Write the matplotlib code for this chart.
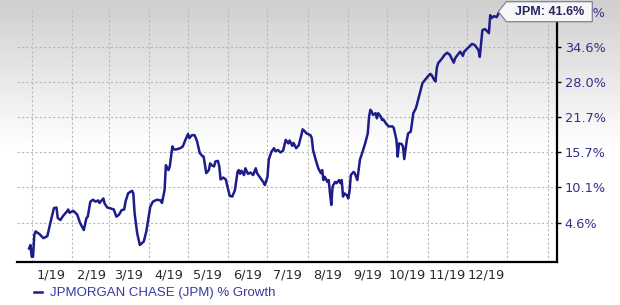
import numpy as np
import pandas as pd
import matplotlib
matplotlib.use("Agg")
import matplotlib.pyplot as plt
import matplotlib.dates as mdates
from matplotlib.patches import Polygon
from matplotlib.transforms import IdentityTransform

# JPM % growth; days counted from 2019-01-01
days = [
    -2, -1, 0, 1, 2, 3, 6, 9, 12, 14, 17, 19, 20, 22, 24, 27, 28, 29, 32, 35,
    37, 40, 42, 43, 45, 47, 49, 51, 52, 55, 56, 58, 60, 63, 65, 67, 69, 71, 72, 74,
    77, 78, 79, 81, 83, 86, 88, 91, 93, 96, 99, 100, 102, 103, 105, 106, 108, 109, 111, 114,
    116, 118, 120, 121, 123, 125, 126, 127, 129, 131, 132, 133, 134, 136, 137, 138, 140, 141, 143, 144,
    145, 147, 149, 150, 152, 154, 156, 158, 159, 160, 161, 163, 164, 166, 168, 170, 172, 173, 175, 178,
    179, 181, 182, 184, 186, 187, 189, 191, 193, 195, 197, 198, 200, 201, 203, 205, 207, 208, 209, 211,
    214, 215, 216, 218, 220, 222, 223, 224, 225, 227, 228, 229, 230, 231, 233, 234, 236, 237, 238, 239,
    240, 242, 243, 244, 245, 247, 248, 250, 251, 252, 254, 256, 258, 259, 260, 261, 262, 264, 265, 266,
    268, 269, 270, 272, 274, 277, 278, 280, 281, 282, 284, 285, 286, 288, 289, 291, 293, 295, 296, 298,
    300, 302, 304, 306, 307, 309, 310, 311, 312, 313, 315, 317, 319, 321, 323, 324, 325, 327, 328, 329,
    331, 332, 334, 336, 338, 340, 341, 343, 344, 345, 346, 348, 350, 351, 352, 353, 355, 357, 359,
]
growth = [
    0.8, 1.3, -0.4, -0.4, 2.8, 3.3, 2.9, 2.3, 2.6, 4.3, 6.8, 6.9, 5.3, 5.0, 5.6, 6.3, 6.6, 6.1, 6.4, 5.8,
    4.6, 3.5, 5.3, 5.5, 7.8, 8.1, 7.8, 8.0, 7.6, 8.3, 7.5, 6.9, 6.8, 6.6, 5.5, 5.8, 6.5, 6.6, 7.8, 9.1,
    9.5, 9.1, 6.0, 3.0, 1.3, 1.8, 3.3, 7.0, 7.8, 8.1, 8.0, 7.6, 9.6, 13.6, 12.8, 13.4, 16.7, 16.2, 16.2, 16.4,
    16.7, 17.8, 18.8, 18.1, 18.6, 18.6, 18.1, 17.5, 15.6, 15.1, 15.0, 13.6, 12.3, 12.8, 13.9, 13.6, 13.4, 14.2, 14.3, 13.4,
    11.3, 11.6, 11.3, 10.4, 8.7, 8.6, 9.6, 12.5, 12.8, 12.2, 12.7, 12.0, 13.1, 12.2, 12.4, 12.0, 13.1, 12.3, 11.7, 10.8,
    10.4, 11.7, 14.5, 15.8, 16.4, 15.9, 16.1, 15.7, 16.0, 17.8, 17.2, 17.7, 16.8, 17.3, 16.4, 16.9, 18.6, 19.6, 19.4, 18.9,
    18.6, 18.1, 16.1, 14.5, 13.1, 12.3, 12.8, 11.2, 11.7, 10.9, 11.2, 9.1, 7.3, 10.2, 10.9, 10.7, 11.2, 10.7, 11.2, 8.6,
    9.1, 8.8, 8.3, 9.4, 12.0, 12.5, 12.3, 11.2, 12.8, 14.5, 15.8, 17.2, 18.9, 21.8, 23.0, 22.7, 22.1, 22.4, 21.5, 22.4,
    21.8, 21.2, 21.3, 20.6, 20.1, 20.1, 19.8, 17.8, 15.0, 17.2, 17.1, 16.7, 14.6, 17.8, 18.9, 19.2, 22.4, 23.3, 24.2, 26.0,
    27.8, 28.4, 29.0, 29.5, 29.3, 28.4, 28.1, 30.6, 31.5, 31.8, 32.4, 33.1, 33.5, 33.1, 32.1, 31.6, 32.4, 33.1, 33.4, 33.7,
    32.9, 33.7, 34.2, 34.7, 35.2, 35.0, 34.7, 34.0, 32.7, 35.3, 37.9, 38.1, 37.6, 37.3, 40.9, 40.3, 40.7, 40.5, 41.6,
]
ytick_vals = [4.6, 10.1, 15.7, 21.7, 28.0, 34.6, 41.5]
month_labels = ["1/19", "2/19", "3/19", "4/19", "5/19", "6/19",
                "7/19", "8/19", "9/19", "10/19", "11/19", "12/19"]
series_label = "JPMORGAN CHASE (JPM) % Growth"
callout_label = "JPM: 41.6%"

NAVY = "#1c1c8a"
start = pd.Timestamp("2019-01-01")
dates = start + pd.to_timedelta(days, unit="D")

fig = plt.figure(figsize=(6.2, 3.05), dpi=100)

# grey-to-white background wash
bg = fig.add_axes([0, 0, 1, 1], zorder=-1)
ramp = np.clip(0.81 + 0.19 * np.linspace(0, 1, 305) * 305 / 150, 0, 1)
bg.imshow(ramp[:, None], aspect="auto", cmap="gray", vmin=0, vmax=1,
          extent=[0, 1, 0, 1])
bg.axis("off")

ax = fig.add_axes([17 / 620, 43 / 305, 539.5 / 620, 254 / 305])
ax.set_facecolor("none")
ax.set_yscale("function", functions=(lambda g: np.log1p(np.asarray(g) / 100),
                                     lambda u: np.expm1(np.asarray(u)) * 100))

line, = ax.plot(dates, growth, color=NAVY, lw=1.8, zorder=3,
                solid_joinstyle="round")

ax.set_ylim(-1.14, 42.35)
ax.set_xlim(start - pd.Timedelta(days=11.3), start + pd.Timedelta(days=402.9))

ax.yaxis.tick_right()
ax.set_yticks(ytick_vals, labels=[f"{v:.1f}%" for v in ytick_vals])
ax.yaxis.set_minor_locator(matplotlib.ticker.NullLocator())
ax.tick_params(axis="y", length=3, width=1, color="black", pad=3,
               labelsize=9.3, labelcolor="#30308a")

ax.xaxis.set_major_locator(mdates.MonthLocator())
ax.xaxis.set_major_formatter(matplotlib.ticker.NullFormatter())
mids = [start + pd.DateOffset(months=i) + pd.Timedelta(days=15) for i in range(12)]
ax.set_xticks(mids, labels=month_labels, minor=True)
ax.tick_params(axis="x", which="both", length=0, pad=5,
               labelsize=9.3, labelcolor="#2a2a2a")

ax.grid(True, which="major", color="#b8b8b8", lw=0.8, ls=(0, (2, 2)))
# the top level has a label but no grid line
ax.yaxis.get_major_ticks()[-1].gridline.set_visible(False)
for side in ("left", "top"):
    ax.spines[side].set_visible(False)
for side in ("bottom", "right"):
    ax.spines[side].set_linewidth(1.6)
    ax.spines[side].set_color("black")

ax.legend([line], [series_label], loc="center left",
          bbox_to_anchor=(34 / 620, 12 / 305), bbox_transform=fig.transFigure,
          frameon=False, borderpad=0, borderaxespad=0,
          handlelength=0.6, handletextpad=0.6,
          prop={"family": "Liberation Sans", "size": 9.5},
          labelcolor="#3838a0")

# value callout at the end of the line
px, py = ax.transData.transform((mdates.date2num(dates[-1]), growth[-1]))
tip = np.array([px - 1, py])
shape = tip + np.array([[0, 0], [8, 10], [94, 10], [94, -10], [8, -10]])
fig.add_artist(Polygon(shape, closed=True, transform=IdentityTransform(),
                       facecolor="#f7f7f7", edgecolor="#8080a0", lw=0.9,
                       zorder=10))
fig.text(tip[0] + 51, tip[1], callout_label, transform=IdentityTransform(),
         ha="center", va="center", fontsize=9, fontweight="bold",
         family="Liberation Sans", color="#26265e", zorder=11)

fig.savefig("out.png", dpi=100)
